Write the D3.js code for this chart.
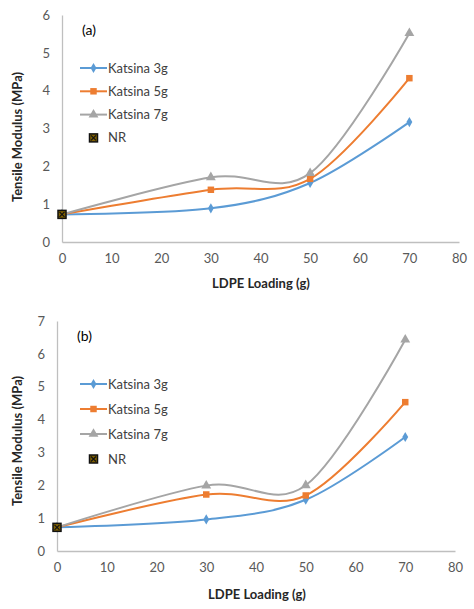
<!DOCTYPE html>
<html lang="en">
<head>
<meta charset="UTF-8">
<title>Tensile Modulus</title>
<script src="https://cdn.jsdelivr.net/npm/d3@7"></script>
<style>
  body { margin: 0; background: #fff; }
  text { font-family: Lato, "Open Sans", sans-serif; }
</style>
</head>
<body>
<div id="chart"></div>
<script>
// data
var loading = [0, 30, 50, 70];
var seriesNames = ["Katsina 3g", "Katsina 5g", "Katsina 7g"];
var xTicks = [0, 10, 20, 30, 40, 50, 60, 70, 80];

// panel (a)
var a3g = [0.73, 0.89, 1.56, 3.17];
var a5g = [0.73, 1.38, 1.67, 4.33];
var a7g = [0.73, 1.71, 1.82, 5.52];
var aNR = 0.73;
var aYTicks = [0, 1, 2, 3, 4, 5, 6];

// panel (b)
var b3g = [0.72, 0.96, 1.56, 3.47];
var b5g = [0.72, 1.72, 1.69, 4.53];
var b7g = [0.72, 1.99, 2.00, 6.43];
var bNR = 0.72;
var bYTicks = [0, 1, 2, 3, 4, 5, 6, 7];

var colors = ["#5b9bd5", "#ed7d31", "#a5a5a5"];
var symbols = [d3.symbolDiamond, d3.symbolSquare, d3.symbolTriangle];
var symSizes = [30, 42, 42];

var svg = d3.select("#chart").append("svg").attr("width", 474).attr("height", 609);

function drawPanel(opt) {
    var g = svg.append("g");
    var x = d3.scaleLinear().domain([0, 80]).range([opt.left, opt.right]);
    var y = d3.scaleLinear().domain([0, opt.yMax]).range([opt.bottom, opt.top]);

    // axes (no tick marks, grey line)
    var xAxis = g.append("g").attr("transform", "translate(0," + opt.bottom + ")")
        .call(d3.axisBottom(x).tickValues(xTicks).tickFormat(d3.format("d")).tickSize(0).tickPadding(12));
    var yAxis = g.append("g").attr("transform", "translate(" + opt.left + ",0)")
        .call(d3.axisLeft(y).tickValues(opt.yTicks).tickFormat(d3.format("d")).tickSize(0).tickPadding(12));
    [xAxis, yAxis].forEach(function (ax) {
        ax.select(".domain").attr("stroke", "#bfbfbf").attr("stroke-width", 1.3);
        ax.selectAll("text").attr("fill", "#595959").style("font-size", "13px")
            .style("font-family", "Lato, 'Open Sans', sans-serif");
    });

    // smoothed lines
    var line = d3.line()
        .x(function (d, i) { return x(loading[i]); })
        .y(function (d) { return y(d); })
        .curve(d3.curveCardinal.tension(0));
    opt.series.forEach(function (s, k) {
        g.append("path").datum(s).attr("d", line)
            .attr("fill", "none").attr("stroke", colors[k]).attr("stroke-width", 2);
        g.selectAll(null).data(s).enter().append("path")
            .attr("d", d3.symbol().type(symbols[k]).size(symSizes[k]))
            .attr("transform", function (d, i) { return "translate(" + x(loading[i]) + "," + y(d) + ")"; })
            .attr("fill", colors[k]);
    });

    // NR point
    drawNR(g, x(0), y(opt.nr));

    // panel label
    g.append("text").attr("x", opt.left + 20).attr("y", opt.top + 20)
        .style("font-size", "14px").attr("fill", "#000").text(opt.label);

    // legend
    seriesNames.forEach(function (n, k) {
        var ly = opt.legendTop + k * opt.legendStep;
        g.append("line").attr("x1", 80).attr("x2", 107).attr("y1", ly).attr("y2", ly)
            .attr("stroke", colors[k]).attr("stroke-width", 2);
        g.append("path").attr("d", d3.symbol().type(symbols[k]).size(symSizes[k]))
            .attr("transform", "translate(93.5," + ly + ")").attr("fill", colors[k]);
        g.append("text").attr("x", 108).attr("y", ly).attr("dy", "0.35em")
            .style("font-size", "13px").attr("fill", "#404040").text(n);
    });
    var nrY = opt.legendTop + 3 * opt.legendStep;
    drawNR(g, 93.5, nrY);
    g.append("text").attr("x", 108).attr("y", nrY).attr("dy", "0.35em")
        .style("font-size", "13px").attr("fill", "#404040").text("NR");

    // axis titles
    g.append("text")
        .attr("transform", "translate(" + opt.yTitleX + "," + opt.yTitleY + ") rotate(-90)")
        .attr("text-anchor", "middle").style("font-size", "13px").style("font-weight", "bold")
        .attr("fill", "#262626").text("Tensile Modulus (MPa)");
    g.append("text").attr("x", opt.xTitleX).attr("y", opt.xTitleY)
        .attr("text-anchor", "middle").style("font-size", "13px").style("font-weight", "bold")
        .attr("fill", "#262626").text("LDPE Loading (g)");
}

function drawNR(g, cx, cy) {
    g.append("rect").attr("x", cx - 4).attr("y", cy - 4).attr("width", 8).attr("height", 8)
        .attr("fill", "#7f6000").attr("stroke", "#111").attr("stroke-width", 1.5);
    g.append("path").attr("d", "M" + (cx - 2.5) + "," + (cy - 2.5) + "L" + (cx + 2.5) + "," + (cy + 2.5) +
        "M" + (cx + 2.5) + "," + (cy - 2.5) + "L" + (cx - 2.5) + "," + (cy + 2.5))
        .attr("stroke", "#111").attr("stroke-width", 1.2);
}

drawPanel({
    left: 62, right: 459, top: 15, bottom: 242, yMax: 6, yTicks: aYTicks,
    series: [a3g, a5g, a7g], nr: aNR, label: "(a)",
    legendTop: 68, legendStep: 23.3,
    yTitleX: 22, yTitleY: 137, xTitleX: 261, xTitleY: 288
});
drawPanel({
    left: 57, right: 455, top: 321, bottom: 551, yMax: 7, yTicks: bYTicks,
    series: [b3g, b5g, b7g], nr: bNR, label: "(b)",
    legendTop: 384, legendStep: 25,
    yTitleX: 22, yTitleY: 441, xTitleX: 257, xTitleY: 599
});
</script>
</body>
</html>
